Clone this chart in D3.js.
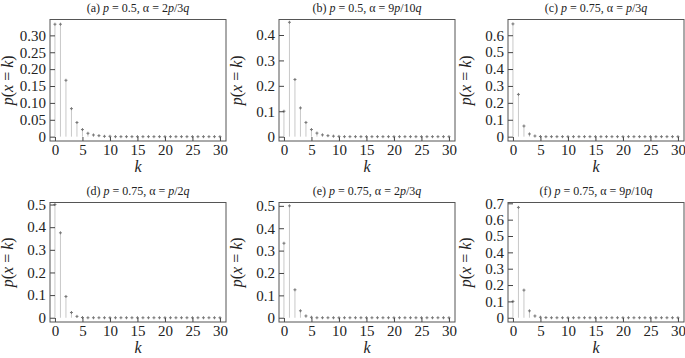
<!DOCTYPE html>
<html>
<head>
<meta charset="utf-8">
<script src="https://cdn.jsdelivr.net/npm/d3@7"></script>
<style>
  body { margin: 0; background: #fff; }
  svg text { font-family: "Liberation Serif", "Times New Roman", Times, serif; }
</style>
</head>
<body>
<svg width="685" height="358"></svg>
<script>
// k = 0..30
var kValues = d3.range(0, 31);

// p(x = k)
var panelA = [0.333, 0.333, 0.167, 0.083, 0.042, 0.021, 0.010, 0.005, 0.003, 0.001, 0.001, 0, 0, 0, 0, 0, 0, 0, 0, 0, 0, 0, 0, 0, 0, 0, 0, 0, 0, 0, 0];
var panelB = [0.100, 0.450, 0.225, 0.113, 0.056, 0.028, 0.014, 0.007, 0.004, 0.002, 0.001, 0, 0, 0, 0, 0, 0, 0, 0, 0, 0, 0, 0, 0, 0, 0, 0, 0, 0, 0, 0];
var panelC = [0.667, 0.250, 0.063, 0.016, 0.004, 0.001, 0, 0, 0, 0, 0, 0, 0, 0, 0, 0, 0, 0, 0, 0, 0, 0, 0, 0, 0, 0, 0, 0, 0, 0, 0];
var panelD = [0.500, 0.375, 0.094, 0.023, 0.006, 0.001, 0, 0, 0, 0, 0, 0, 0, 0, 0, 0, 0, 0, 0, 0, 0, 0, 0, 0, 0, 0, 0, 0, 0, 0, 0];
var panelE = [0.333, 0.500, 0.125, 0.031, 0.008, 0.002, 0, 0, 0, 0, 0, 0, 0, 0, 0, 0, 0, 0, 0, 0, 0, 0, 0, 0, 0, 0, 0, 0, 0, 0, 0];
var panelF = [0.100, 0.675, 0.169, 0.042, 0.011, 0.003, 0.001, 0, 0, 0, 0, 0, 0, 0, 0, 0, 0, 0, 0, 0, 0, 0, 0, 0, 0, 0, 0, 0, 0, 0, 0];

var panelLetters = ['a', 'b', 'c', 'd', 'e', 'f'];
var pLabels = ['0.5', '0.5', '0.75', '0.75', '0.75', '0.75'];
// alpha = num p / den q
var alphaNum = ['2', '9', '', '', '2', '9'];
var alphaDen = ['3', '10', '3', '2', '3', '10'];

var yTicks = [
  [0, 0.05, 0.10, 0.15, 0.20, 0.25, 0.30],
  [0, 0.1, 0.2, 0.3, 0.4],
  [0, 0.1, 0.2, 0.3, 0.4, 0.5, 0.6],
  [0, 0.1, 0.2, 0.3, 0.4, 0.5],
  [0, 0.1, 0.2, 0.3, 0.4, 0.5],
  [0, 0.1, 0.2, 0.3, 0.4, 0.5, 0.6, 0.7]
];
var yMax = [0.347, 0.461, 0.693, 0.509, 0.515, 0.705];
var xTicks = [0, 5, 10, 15, 20, 25, 30];

var allData = [panelA, panelB, panelC, panelD, panelE, panelF];

var svg = d3.select('svg');
var serif = '"Liberation Serif", "Times New Roman", Times, serif';
var colLeft = [50, 279, 508];
var rowTop = [19.5, 202.5];
var panelW = 176;
var panelH = [121.5, 119.5];

function yFormat(i) {
  return function(d) {
    if (d === 0) return '0';
    return i === 0 ? d3.format('.2f')(d) : d3.format('.1f')(d);
  };
}

allData.forEach(function(values, i) {
  var col = i % 3, row = Math.floor(i / 3);
  var w = panelW, h = panelH[row];
  var g = svg.append('g')
      .attr('font-family', serif)
      .attr('transform', 'translate(' + [colLeft[col], rowTop[row]] + ')');

  var x = d3.scaleLinear().domain([-0.9, 31.1]).range([0, w]);
  var y = d3.scaleLinear().domain([-yMax[i] * 0.037, yMax[i]]).range([h, 0]);

  var pts = kValues.map(function(k, j) { return { k: k, v: values[j] }; });

  // stems
  g.selectAll('.stem')
    .data(pts)
    .enter().append('line')
    .attr('class', 'stem')
    .attr('x1', function(d) { return x(d.k); })
    .attr('x2', function(d) { return x(d.k); })
    .attr('y1', y(0))
    .attr('y2', function(d) { return y(d.v); })
    .attr('stroke', '#c8c8c8')
    .attr('stroke-width', 1);

  // markers
  g.selectAll('.mark')
    .data(pts)
    .enter().append('path')
    .attr('class', 'mark')
    .attr('d', function(d) {
      var cx = x(d.k), cy = y(d.v);
      return 'M' + (cx - 1.5) + ',' + cy + 'H' + (cx + 1.5) + 'M' + cx + ',' + (cy - 1.5) + 'V' + (cy + 1.5);
    })
    .attr('stroke', '#777')
    .attr('stroke-width', 1);

  // axes with inward ticks
  var yAxis = g.append('g')
    .call(d3.axisLeft(y).tickValues(yTicks[i]).tickFormat(yFormat(i)).tickSize(-5).tickPadding(4));
  var xAxis = g.append('g')
    .attr('transform', 'translate(0,' + h + ')')
    .call(d3.axisBottom(x).tickValues(xTicks).tickSize(-4).tickPadding(3));

  [yAxis, xAxis].forEach(function(a) {
    a.attr('font-family', serif).attr('font-size', 15);
    a.select('.domain').remove();
    a.selectAll('line').attr('stroke', '#444');
    a.selectAll('text').attr('fill', '#222');
  });

  // frame
  g.append('rect')
    .attr('width', w).attr('height', h)
    .attr('fill', 'none')
    .attr('stroke', '#555')
    .attr('stroke-width', 1);

  // title
  var t = g.append('text')
    .attr('x', w / 2).attr('y', -8)
    .attr('text-anchor', 'middle')
    .attr('font-size', 12)
    .attr('fill', '#222');
  t.append('tspan').text('(' + panelLetters[i] + ') ');
  t.append('tspan').attr('font-style', 'italic').text('p');
  t.append('tspan').text(' = ' + pLabels[i] + ', \u03b1 = ' + alphaNum[i]);
  t.append('tspan').attr('font-style', 'italic').text('p');
  t.append('tspan').text('/' + alphaDen[i]);
  t.append('tspan').attr('font-style', 'italic').text('q');

  // x label
  g.append('text')
    .attr('x', w / 2).attr('y', h + 31)
    .attr('text-anchor', 'middle')
    .attr('font-style', 'italic')
    .attr('font-size', 16)
    .attr('fill', '#222')
    .text('k');

  // y label
  var yl = g.append('text')
    .attr('transform', 'translate(' + (-37) + ',' + (h / 2) + ') rotate(-90)')
    .attr('text-anchor', 'middle')
    .attr('font-size', 16)
    .attr('fill', '#222');
  yl.append('tspan').attr('font-style', 'italic').text('p');
  yl.append('tspan').text('(');
  yl.append('tspan').attr('font-style', 'italic').text('x');
  yl.append('tspan').text(' = ');
  yl.append('tspan').attr('font-style', 'italic').text('k');
  yl.append('tspan').text(')');
});
</script>
</body>
</html>
